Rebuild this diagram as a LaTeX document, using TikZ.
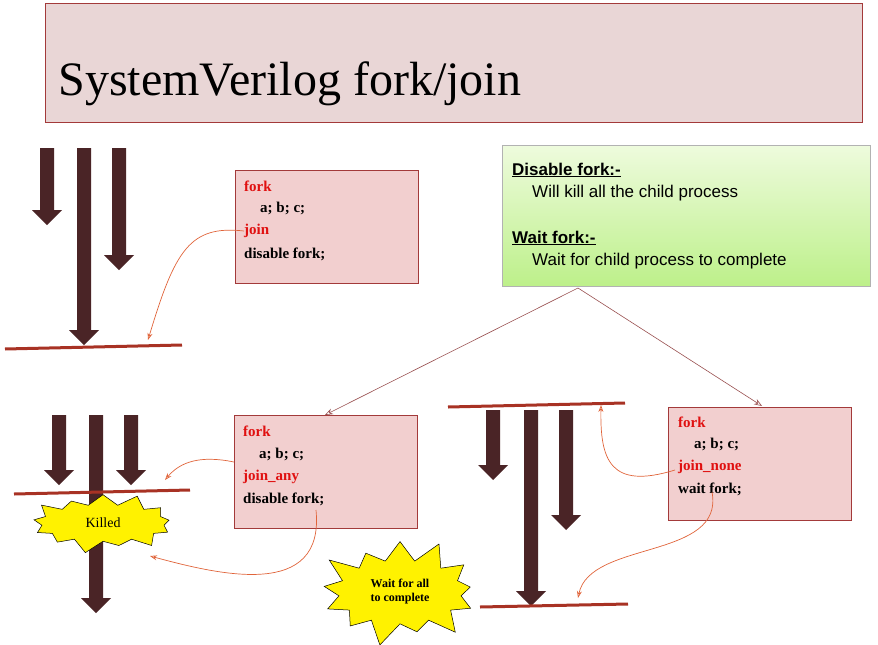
\documentclass[tikz,border=0pt]{standalone}
\usepackage{fontspec}
\setmainfont{Liberation Serif}
\newfontfamily\sansf{Liberation Sans}
\usetikzlibrary{shapes.symbols,arrows.meta}
\definecolor{boxfill}{HTML}{F2CFCF}
\definecolor{boxline}{HTML}{A33A3A}
\definecolor{titfill}{HTML}{E9D6D6}
\definecolor{shaft}{HTML}{4A2426}
\definecolor{barc}{HTML}{A83224}
\definecolor{curvec}{HTML}{E0643A}
\definecolor{kw}{HTML}{E01010}
\definecolor{greenA}{HTML}{EEFBDD}
\definecolor{greenB}{HTML}{BDF08A}
\tikzset{
 codebox/.style={draw=boxline,fill=boxfill,minimum width=183pt,minimum height=113pt,anchor=north west,inner sep=0pt},
 codetxt/.style={anchor=west,font=\bfseries\fontsize{15}{17}\selectfont,inner sep=0pt},
 gtxt/.style={anchor=west,font=\sansf\fontsize{17}{19}\selectfont,inner sep=0pt},
 bar/.style={draw=barc,line width=3pt},
 curve/.style={draw=curvec,line width=0.7pt,-{Stealth[length=7pt,width=5pt,open]}},
 conn/.style={draw=boxline!70!gray,line width=0.6pt,-{Stealth[length=8pt,width=6pt,open]}},
 starn/.style={starburst,fill=yellow,draw=black,line width=0.5pt,starburst points=13,align=center,font=\bfseries\fontsize{12}{14}\selectfont}
}
\newcommand\fatarr[3]{%
 \fill[white] (#1-10,#2) -- (#1+10,#2) -- (#1+10,#3-16) -- (#1+19,#3-16) -- (#1,#3+3) -- (#1-19,#3-16) -- (#1-10,#3-16) -- cycle;
 \fill[shaft] (#1-7,#2) -- (#1+7,#2) -- (#1+7,#3-15) -- (#1+15,#3-15) -- (#1,#3) -- (#1-15,#3-15) -- (#1-7,#3-15) -- cycle;}
\begin{document}
\begin{tikzpicture}[x=1pt,y=-1pt]
\useasboundingbox (0,0) rectangle (878,645);
% title
\node[draw=boxline,fill=titfill,minimum width=817pt,minimum height=119pt,anchor=north west,inner sep=0pt] (title) at (45,3) {};
\node[anchor=base west,font=\fontsize{48}{52}\selectfont] (tt) at (55,95) {SystemVerilog fork/join};
% top-left
\fatarr{47}{148}{225}
\fatarr{84}{148}{345}
\fatarr{119}{148}{270}
\coordinate (b1a) at (5,349); \coordinate (b1b) at (182,345);
\draw[bar] (b1a) -- (b1b);
\coordinate (t1) at (148,340);
\node[codebox] (box1) at (235,170) {};
\node[codetxt,text=kw] (f1) at (244,186) {fork};
\node[codetxt] (a1) at (260,208) {a; b; c;};
\node[codetxt,text=kw] (j1) at (244,231) {join};
\node[codetxt] (d1) at (244,254) {disable fork;};
\draw[curve] (j1.west) .. controls (190,225) and (175,250) .. (t1);
% green box
\node[draw=gray!60,top color=greenA,bottom color=greenB,minimum width=368pt,minimum height=141pt,anchor=north west,inner sep=0pt] (gbox) at (502,145) {};
\node[gtxt,font=\sansf\bfseries\fontsize{17}{19}\selectfont] (g1) at (512,170) {\underline{Disable fork:-}};
\node[gtxt] (g2) at (532,193) {Will kill all the child process};
\node[gtxt,font=\sansf\bfseries\fontsize{17}{19}\selectfont] (g3) at (512,238) {\underline{Wait fork:-}};
\node[gtxt] (g4) at (532,261) {Wait for child process to complete};
\coordinate (gs) at (578,288);
% bottom-left
\fatarr{59}{415}{485}
\fatarr{96}{415}{613}
\fatarr{131}{415}{485}
\coordinate (b2a) at (14,494); \coordinate (b2b) at (190,490);
\draw[bar] (b2a) -- (b2b);
\node[starn,inner xsep=26pt,inner ysep=8pt,starburst point height=14pt] (k) at (103,523) {\normalfont\fontsize{14}{16}\selectfont Killed};
\node[codebox] (box2) at (234,415) {};
\node[codetxt,text=kw] (f2) at (243,431) {fork};
\node[codetxt] (a2) at (259,454) {a; b; c;};
\node[codetxt,text=kw] (j2) at (243,477) {join\_any};
\node[codetxt] (d2) at (243,499) {disable fork;};
\coordinate (t2) at (165,480);
\coordinate (t3) at (150,556);
\draw[curve] (234,462) .. controls (200,455) and (180,462) .. (t2);
\draw[curve] (316,510) .. controls (325,600) and (220,575) .. (t3);
\coordinate (t6) at (325,415);
\draw[conn] (gs) -- (t6);
% right
\coordinate (b3a) at (448,407); \coordinate (b3b) at (625,403);
\draw[bar] (b3a) -- (b3b);
\fatarr{493}{410}{480}
\fatarr{531}{410}{606}
\fatarr{566}{410}{530}
\coordinate (b4a) at (480,607); \coordinate (b4b) at (628,604);
\draw[bar] (b4a) -- (b4b);
\node[starn,inner xsep=14pt,inner ysep=10pt,starburst point height=26pt] (w) at (400,592) {Wait for all\\to complete};
\node[codebox] (box3) at (668,407) {};
\node[codetxt,text=kw] (f3) at (678,422) {fork};
\node[codetxt] (a3) at (694,444) {a; b; c;};
\node[codetxt,text=kw] (j3) at (678,467) {join\_none};
\node[codetxt] (d3) at (678,489) {wait fork;};
\coordinate (t7) at (762,406);
\draw[conn] (gs) -- (t7);
\coordinate (t4) at (601,405);
\coordinate (t5) at (578,598);
\draw[curve] (675,470) .. controls (610,490) and (600,460) .. (t4);
\draw[curve] (712,492) .. controls (725,560) and (590,540) .. (t5);
\end{tikzpicture}
\end{document}
